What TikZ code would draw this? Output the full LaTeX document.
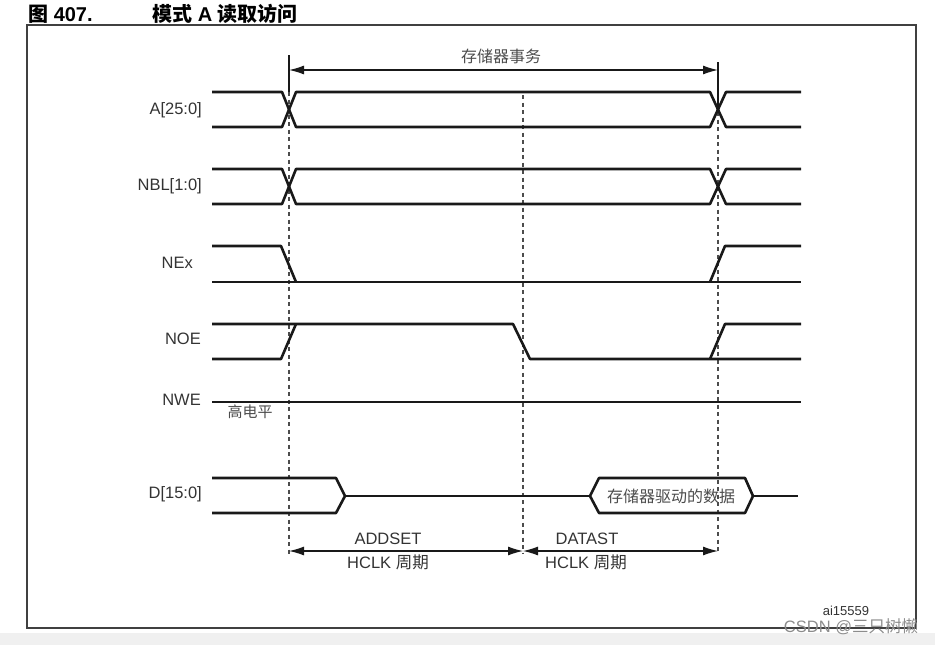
\documentclass[tikz,border=0pt]{standalone}
\usepackage{fontspec}
\setmainfont{Liberation Sans}
\newfontfamily\cjk{Noto Sans CJK SC}
\usetikzlibrary{arrows.meta}
\begin{document}
\begin{tikzpicture}[x=1pt,y=-1pt,
  sig/.style={line width=2.6pt, draw=black!90, line join=round},
  guide/.style={line width=1.3pt, draw=black!70, dash pattern=on 4pt off 3.5pt},
  tick/.style={line width=1.2pt, draw=black!90},
  dim/.style={line width=1.2pt, draw=black!90, {Latex[length=15pt,width=9pt]}-{Latex[length=15pt,width=9pt]}},
  lbl/.style={font=\fontsize{16.5}{18}\selectfont, text=black!80, inner sep=0pt},
  cn/.style={font=\cjk\fontsize{16}{18}\selectfont, text=black!70, inner sep=0pt},
  ttl/.style={font=\bfseries\fontsize{20}{22}\selectfont, text=black, inner sep=0pt, anchor=west}]
\useasboundingbox (0,0) rectangle (935,645);
\fill[black!6] (0,633) rectangle (935,645);
% frame
\draw[line width=1.5pt, black!75] (27,25) rectangle (916,628);
% title
\node[ttl] (t1) at (28,14) {{\cjk\bfseries 图} 407.};
\node[ttl] (t2) at (152,14) {{\cjk\bfseries 模式} A {\cjk\bfseries 读取访问}};
% signal labels
\node[lbl, anchor=east] (lA) at (202,110) {A[25:0]};
\node[lbl, anchor=east] (lB) at (202,186) {NBL[1:0]};
\node[lbl, anchor=east] (lE) at (193,263) {NEx};
\node[lbl, anchor=east] (lO) at (201,339) {NOE};
\node[lbl, anchor=east] (lW) at (201,400) {NWE};
\node[cn, font=\cjk\fontsize{15}{17}\selectfont] (hi) at (250,412) {高电平};
\node[lbl, anchor=east] (lD) at (202,494) {D[15:0]};
% named points
\coordinate (ta1) at (289,70);
\coordinate (ta3) at (718,70);
\coordinate (b1) at (289,551);
\coordinate (b2) at (523,551);
\coordinate (b3) at (718,551);
% guides
\draw[tick] (289,55) -- (289,92);
\draw[tick] (718,62) -- (718,112);
\draw[guide] (289,92) -- (289,554);
\draw[guide] (523,95) -- (523,554);
\draw[guide] (718,112) -- (718,554);
% A
\draw[sig] (212,92) -- (282,92) -- (296,127) -- (710,127) -- (726,92) -- (801,92);
\draw[sig] (212,127) -- (282,127) -- (296,92) -- (710,92) -- (726,127) -- (801,127);
% NBL
\draw[sig] (212,169) -- (282,169) -- (296,204) -- (710,204) -- (726,169) -- (801,169);
\draw[sig] (212,204) -- (282,204) -- (296,169) -- (710,169) -- (726,204) -- (801,204);
% NEx
\draw[sig] (212,246) -- (281,246) -- (296,282);
\draw[sig] (212,282) -- (801,282);
\draw[sig] (710,282) -- (725,246) -- (801,246);
% NOE
\draw[sig] (212,324) -- (513,324) -- (530,359) -- (801,359);
\draw[sig] (212,359) -- (281,359) -- (296,324);
\draw[sig] (710,359) -- (725,324) -- (801,324);
% NWE
\draw[sig] (212,402) -- (801,402);
% D
\draw[sig] (212,478) -- (336,478) -- (345,496) -- (336,513) -- (212,513);
\draw[sig] (345,496) -- (590,496);
\draw[sig] (590,496) -- (599,478) -- (745,478) -- (753,496) -- (745,513) -- (599,513) -- cycle;
\draw[sig] (753,496) -- (798,496);
\node[cn] (dd) at (671,496) {存储器驱动的数据};
% dimension arrows
\draw[dim] (ta1) -- (ta3);
\node[cn] (mt) at (501,56) {存储器事务};
\draw[dim] (b1) -- (b2);
\draw[dim] (b2) -- (b3);
\node[lbl] (as) at (388,539) {ADDSET};
\node[lbl] (ah) at (388,562) {HCLK {\cjk 周期}};
\node[lbl] (ds) at (587,539) {DATAST};
\node[lbl] (dh) at (586,562) {HCLK {\cjk 周期}};
% footer
\node[lbl, font=\fontsize{13}{15}\selectfont] (ai) at (846,611) {ai15559};
\node[lbl, text=black!45] (wm) at (851,627) {CSDN @{\cjk 三只树懒}};
\end{tikzpicture}
\end{document}
